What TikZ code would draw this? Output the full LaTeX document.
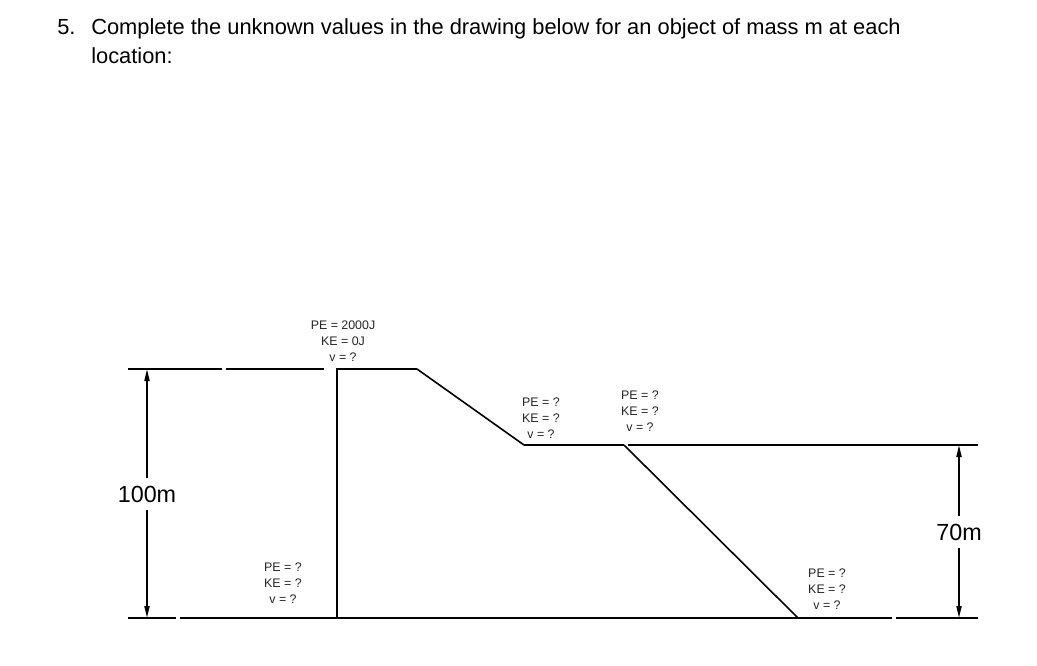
\documentclass[tikz,border=0pt]{standalone}
\usepackage{fontspec}
\setmainfont{Liberation Sans}
\usetikzlibrary{arrows.meta}
\begin{document}
\begin{tikzpicture}[x=0.75pt,y=-0.75pt,
  ground/.style={line width=1.6pt,line cap=butt},
  slope/.style={line width=1.2pt},
  dim/.style={line width=1.3pt,-{Triangle[length=9pt,width=3.8pt]}},
  lab/.style={align=center,inner sep=0pt,text=black!85,font=\fontsize{9.3}{12}\selectfont},
  big/.style={inner sep=0pt,outer ysep=6pt,font=\fontsize{17.5}{20}\selectfont},
  title/.style={inner sep=0pt,anchor=base west,font=\fontsize{16.4}{19}\selectfont}]
\useasboundingbox (0,0) rectangle (1037,665);
% title
\node[title] (num) at (57,34) {5.};
\node[title] (t1) at (91,34) {Complete the unknown values in the drawing below for an object of mass m at each};
\node[title] (t2) at (91,63) {location:};
% coordinates
\coordinate (tl1) at (128,369); \coordinate (tl2) at (222,369);
\coordinate (tl3) at (226,369); \coordinate (tl4) at (324,369);
\coordinate (cb) at (337,618); \coordinate (ct) at (337,369);
\coordinate (ce) at (417,369); \coordinate (s1) at (524,445);
\coordinate (s2) at (624,445); \coordinate (m1) at (628,445);
\coordinate (m2) at (978,445); \coordinate (s3) at (798,618);
\coordinate (b1) at (128,618); \coordinate (b2) at (176,618);
\coordinate (b3) at (180,618); \coordinate (b4) at (892,618);
\coordinate (b5) at (896,618); \coordinate (b6) at (978,618);
\coordinate (aL1) at (147,369); \coordinate (aL2) at (147,618);
\coordinate (aR1) at (959,445); \coordinate (aR2) at (959,618);
% ground lines
\draw[ground] (tl1) -- (tl2);
\draw[ground] (tl3) -- (tl4);
\draw[ground] (cb) -- (ct) -- (ce);
\draw[slope] (ce) -- (s1);
\draw[ground] (s1) -- (s2);
\draw[ground] (m1) -- (m2);
\draw[slope] (s2) -- (s3);
\draw[ground] (b1) -- (b2);
\draw[ground] (b3) -- (b4);
\draw[ground] (b5) -- (b6);
% dimensions
\node[big] (h100) at (147,494) {100m};
\draw[dim] (h100.north) -- (aL1);
\draw[dim] (h100.south) -- (aL2);
\node[big] (h70) at (959,532) {70m};
\draw[dim] (h70.north) -- (aR1);
\draw[dim] (h70.south) -- (aR2);
% labels
\node[lab] (lt) at (343,341) {PE = 2000J\\KE = 0J\\v = ?};
\node[lab] (lm1) at (541,418) {PE = ?\\KE = ?\\v = ?};
\node[lab] (lm2) at (640,411) {PE = ?\\KE = ?\\v = ?};
\node[lab] (lb1) at (283,583) {PE = ?\\KE = ?\\v = ?};
\node[lab] (lb2) at (827,589) {PE = ?\\KE = ?\\v = ?};
\end{tikzpicture}
\end{document}
